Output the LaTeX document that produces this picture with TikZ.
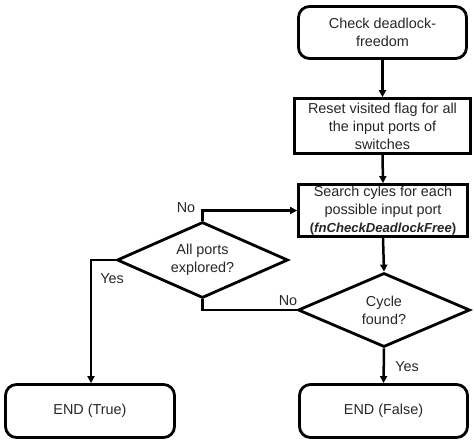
\documentclass[tikz,border=0pt]{standalone}
\usepackage{fontspec}
\setmainfont{Liberation Sans}
\usetikzlibrary{shapes.geometric,arrows.meta}
\tikzset{
  base/.style={draw=black, line width=2.8pt, inner sep=0pt, align=center,
    font=\fontsize{14.4}{18}\selectfont, text=black!85},
  roundbox/.style={base, rounded corners=11pt},
  sqbox/.style={base},
  decision/.style={base, diamond, aspect=2.3},
  conn/.style={line width=2.5pt, draw=black},
  arr/.style={conn, -{Triangle[length=7pt,width=7pt]}},
  lbl/.style={font=\fontsize{14.4}{18}\selectfont, text=black!85, inner sep=0pt}
}
\begin{document}
\begin{tikzpicture}[x=1pt,y=-1pt]
\useasboundingbox (0,0) rectangle (474,442);
\node[roundbox, minimum width=168pt, minimum height=52pt] (start) at (382.5,32.5) {Check deadlock-\\freedom};
\node[sqbox, minimum width=176pt, minimum height=55pt] (reset) at (382.5,126) {Reset visited flag for all\\the input ports of\\switches};
\node[sqbox, minimum width=169pt, minimum height=52pt] (search) at (383,210.5) {Search cyles for each\\possible input port\\{\fontsize{13.1}{18}\selectfont\textbf{(\textit{fnCheckDeadlockFree})}}};
\node[decision, minimum width=172pt, minimum height=74pt] (cycle) at (384,310) {Cycle\\found?};
\node[decision, minimum width=171pt, minimum height=76pt] (ports) at (202.5,260) {All ports\\explored?};
\node[roundbox, minimum width=169pt, minimum height=53pt] (endt) at (90,411) {END (True)};
\node[roundbox, minimum width=168pt, minimum height=53pt] (endf) at (383.5,411) {END (False)};
\coordinate (c1) at (202.5,210.5);
\coordinate (c2) at (202.5,310);
\coordinate (c3) at (91,260);
\draw[arr] (start.south) -- (reset.north);
\draw[arr] (reset.south) -- (search.north);
\draw[arr] (search.south) -- (cycle.north);
\draw[arr] (cycle.south) -- (endf.north);
\draw[conn] (cycle.west) -- (c2) -- (ports.south);
\draw[arr] (ports.north) -- (c1) -- (search.west);
\draw[arr] (ports.west) -- (c3) -- (endt.north -| c3);
\node[lbl] (yes1) at (407,367) {Yes};
\node[lbl] (no1) at (288,301) {No};
\node[lbl] (no2) at (186,208) {No};
\node[lbl] (yes2) at (112,279) {Yes};
\end{tikzpicture}
\end{document}
